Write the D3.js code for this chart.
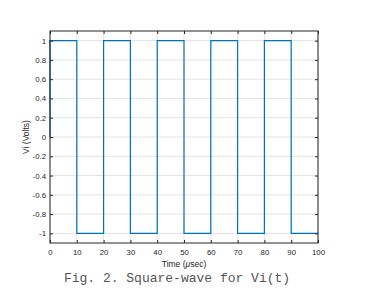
<!DOCTYPE html>
<html>
<head>
<meta charset="utf-8">
<script src="https://cdn.jsdelivr.net/npm/d3@7"></script>
<style>
  body { margin: 0; background: #fff; }
  svg text { font-family: "Liberation Sans", Arial, sans-serif; fill: #262626; }
</style>
</head>
<body>
<svg width="370" height="299"></svg>
<script>
// square wave Vi(t), period 20 usec
var times = [0, 0, 10, 10, 20, 20, 30, 30, 40, 40, 50, 50, 60, 60, 70, 70, 80, 80, 90, 90, 100]
var volts = [0, 1, 1, -1, -1, 1, 1, -1, -1, 1, 1, -1, -1, 1, 1, -1, -1, 1, 1, -1, -1]
var xTicks = [0, 10, 20, 30, 40, 50, 60, 70, 80, 90, 100]
var yTicks = [-1, -0.8, -0.6, -0.4, -0.2, 0, 0.2, 0.4, 0.6, 0.8, 1]

var points = times.map(function(t, i) { return { t: t, v: volts[i] } })

const plotLeft = 50, plotRight = 318, plotTop = 31, plotBottom = 243
const svg = d3.select('svg')

const xScale = d3.scaleLinear().domain([0, 100]).range([plotLeft, plotRight])
const yScale = d3.scaleLinear().domain([-1.1, 1.1]).range([plotBottom, plotTop])

// grid
svg.append('g')
  .selectAll('line')
  .data(yTicks)
  .enter()
  .append('line')
  .attr('x1', plotLeft).attr('x2', plotRight)
  .attr('y1', d => yScale(d)).attr('y2', d => yScale(d))
  .attr('stroke', '#e3e3e3')
svg.append('g')
  .selectAll('line')
  .data(xTicks)
  .enter()
  .append('line')
  .attr('y1', plotTop).attr('y2', plotBottom)
  .attr('x1', d => xScale(d)).attr('x2', d => xScale(d))
  .attr('stroke', '#e3e3e3')

// the wave
const line = d3.line().x(d => xScale(d.t)).y(d => yScale(d.v))
svg.append('path')
  .datum(points)
  .attr('d', line)
  .attr('fill', 'none')
  .attr('stroke', '#0072bd')
  .attr('stroke-width', 1.2)

// axes, ticks point inward like matlab
function styleAxis(g) {
  g.select('.domain').remove()
  g.selectAll('.tick line').attr('stroke', '#262626')
  g.selectAll('.tick text').attr('font-size', 7.8).attr('fill', '#3a3a3a')
    .attr('font-family', '"Liberation Sans", Arial, sans-serif')
}

// plain hyphen for negatives, as in the figure
const yFormat = d => String(+d.toFixed(1))

svg.append('g')
  .attr('transform', `translate(0, ${plotBottom})`)
  .call(d3.axisBottom(xScale).tickValues(xTicks).tickSize(-3).tickPadding(6))
  .call(styleAxis)
svg.append('g')
  .attr('transform', `translate(0, ${plotTop})`)
  .call(d3.axisTop(xScale).tickValues(xTicks).tickSize(-3).tickFormat(''))
  .call(styleAxis)
svg.append('g')
  .attr('transform', `translate(${plotLeft}, 0)`)
  .call(d3.axisLeft(yScale).tickValues(yTicks).tickSize(-3).tickPadding(4).tickFormat(yFormat))
  .call(styleAxis)
svg.append('g')
  .attr('transform', `translate(${plotRight}, 0)`)
  .call(d3.axisRight(yScale).tickValues(yTicks).tickSize(-3).tickFormat(''))
  .call(styleAxis)

// box
svg.append('rect')
  .attr('x', plotLeft).attr('y', plotTop)
  .attr('width', plotRight - plotLeft).attr('height', plotBottom - plotTop)
  .attr('fill', 'none')
  .attr('stroke', '#262626')
  .attr('stroke-width', 1)

// labels
const xLabel = svg.append('text')
  .attr('x', (plotLeft + plotRight) / 2).attr('y', 267)
  .attr('text-anchor', 'middle')
  .attr('font-size', 8.5)
xLabel.append('tspan').text('Time (')
xLabel.append('tspan').attr('font-style', 'italic').text('\u03bc')
xLabel.append('tspan').text('sec)')

svg.append('text')
  .attr('transform', `translate(29, ${(plotTop + plotBottom) / 2}) rotate(-90)`)
  .attr('text-anchor', 'middle')
  .attr('font-size', 8.5)
  .text('Vi (Volts)')

svg.append('text')
  .attr('x', 177).attr('y', 282)
  .attr('text-anchor', 'middle')
  .attr('font-size', 13)
  .style('font-family', '"Liberation Mono", "Courier New", monospace')
  .style('fill', '#555')
  .text('Fig. 2. Square-wave for Vi(t)')
</script>
</body>
</html>
